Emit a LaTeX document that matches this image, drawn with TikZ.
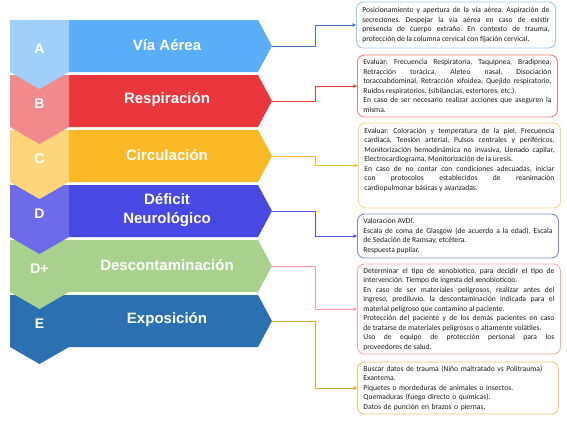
\documentclass[tikz,border=0pt]{standalone}
\usepackage{fontspec}
\setmainfont{Liberation Sans}
\newfontfamily\boxfam{Carlito}
\usetikzlibrary{arrows.meta}
\definecolor{tabA}{HTML}{A0CFFA}\definecolor{barA}{HTML}{5AADF7}\definecolor{lnA}{HTML}{4472C4}\definecolor{bxA}{HTML}{9ECAF2}
\definecolor{tabB}{HTML}{F28A8C}\definecolor{barB}{HTML}{EB363B}\definecolor{lnB}{HTML}{EE3B3B}\definecolor{bxB}{HTML}{EE8080}
\definecolor{tabC}{HTML}{FDD67B}\definecolor{barC}{HTML}{FBBA25}\definecolor{lnC}{HTML}{FBBA25}\definecolor{bxC}{HTML}{FCD580}
\definecolor{tabD}{HTML}{6D6BE9}\definecolor{barD}{HTML}{4848E2}\definecolor{lnD}{HTML}{5252E6}\definecolor{bxD}{HTML}{8484EC}
\definecolor{tabP}{HTML}{A9D18E}\definecolor{barP}{HTML}{A9D18E}\definecolor{lnP}{HTML}{FF9B9B}\definecolor{bxP}{HTML}{F8A8A8}
\definecolor{tabE}{HTML}{2B71B1}\definecolor{barE}{HTML}{2B71B1}\definecolor{lnE}{HTML}{E0A526}\definecolor{bxE}{HTML}{F2C46A}
\definecolor{txt}{HTML}{1A1A1A}
\frenchspacing
\newcommand\abcrow[6]{%
  \fill[#3] (69,#1) -- (258,#1) -- (272,#1+26) -- (258,#1+52) -- (69,#1+52) -- cycle;
  \fill[#2] (10,#1) -- (69,#1) -- (69,#1+52) -- (39.5,#1+69) -- (10,#1+52) -- cycle;
  \node[lettr] (#6L) at (39.5,#1+29) {#4};
  \node[ttl] (#6T) at (167,#1+25) {#5};
  \coordinate (#6tip) at (272,#1+26);
}
\begin{document}
\begin{tikzpicture}[x=1pt,y=-1pt,
  lettr/.style={text=white,font=\fontsize{14}{16}\selectfont\bfseries,inner sep=0pt},
  ttl/.style={text=white,font=\fontsize{15}{18.5}\selectfont\bfseries,align=center,inner sep=0pt},
  infobox/.style={draw=#1,line width=0.9pt,rounded corners=7pt,anchor=west,inner xsep=6pt,inner ysep=2pt,
     align=justify,text=txt,font=\boxfam\fontsize{7.6}{9.5}\selectfont\frenchspacing},
  conn/.style={draw=#1,line width=1pt,-{Triangle[length=3.5pt,width=3.5pt]}}]
\useasboundingbox (0,0) rectangle (567,426);
\abcrow{295}{tabE}{barE}{E}{Exposición}{E}
\abcrow{240}{tabP}{barP}{D+}{Descontaminación}{P}
\abcrow{185}{tabD}{barD}{D}{Déficit\\Neurológico}{D}
\abcrow{130}{tabC}{barC}{C}{Circulación}{C}
\abcrow{75}{tabB}{barB}{B}{Respiración}{B}
\abcrow{20}{tabA}{barA}{A}{Vía Aérea}{A}
% boxes
\node[infobox=bxA,text width=187pt,minimum height=46pt] (bA) at (356,25)
 {Posicionamiento y apertura de la vía aérea. Aspiración de\linebreak secreciones. Despejar la vía aérea en caso de existir\linebreak presencia de cuerpo extraño. En contexto de trauma,\linebreak protección de la columna cervical con fijación cervical.};
\node[infobox=bxB,text width=188pt,minimum height=62pt] (bB) at (357,86)
 {Evaluar: Frecuencia Respiratoria, Taquipnea, Bradipnea,\linebreak Retracción torácica, Aleteo nasal, Disociación\linebreak toracoabdominal, Retracción xifoidea, Quejido respiratorio,\linebreak Ruidos respiratorios. (sibilancias, estertores, etc.).\par En caso de ser necesario realizar acciones que aseguren la\linebreak misma.};
\node[infobox=bxC,text width=190pt,minimum height=85pt] (bC) at (358,165.5)
 {Evaluar: Coloración y temperatura de la piel, Frecuencia\linebreak cardiaca, Tensión arterial, Pulsos centrales y periféricos.\linebreak Monitorización hemodinámica no invasiva, Llenado capilar,\linebreak Electrocardiograma, Monitorización de la uresis.\par En caso de no contar con condiciones adecuadas, iniciar\linebreak con protocolos establecidos de reanimación\linebreak cardiopulmonar básicas y avanzadas.\par\vspace*{12pt}};
\node[infobox=bxD,text width=189pt,minimum height=44pt] (bD) at (357,236)
 {Valoración AVDI.\par Escala de coma de Glasgow (de acuerdo a la edad), Escala\linebreak de Sedación de Ramsay, etcétera.\par Respuesta pupilar.};
\node[infobox=bxP,text width=191pt,minimum height=90pt] (bP) at (357,309)
 {Determinar el tipo de xenobiotico, para decidir el tipo de\linebreak intervención. Tiempo de ingesta del xenobioticoo.\par En caso de ser materiales peligrosos, realizar antes del\linebreak ingreso, prediluvio, la descontaminación indicada para el\linebreak material peligroso que contamino al paciente.\par Protección del paciente y de los demás pacientes en caso\linebreak de tratarse de materiales peligrosos o altamente volátiles.\par Uso de equipo de protección personal para los\linebreak proveedores de salud.};
\node[infobox=bxE,text width=189pt,minimum height=52pt,align=left] (bE) at (357,388)
 {Buscar datos de trauma (Niño maltratado vs Politrauma)\\ Exantema.\\ Piquetes o mordeduras de animales o insectos.\\ Quemaduras (fuego directo o químicas).\\ Datos de punción en brazos o piernas.};
% connectors
\draw[conn=lnA] (Atip) -- ++(43,0) |- (bA.west);
\draw[conn=lnB] (Btip) -- ++(43,0) |- (bB.west);
\draw[conn=lnC] (Ctip) -- ++(43,0) |- (bC.west);
\draw[conn=lnD] (Dtip) -- ++(43,0) |- (bD.west);
\draw[conn=lnP] (Ptip) -- ++(43,0) |- (bP.west);
\draw[conn=lnE] (Etip) -- ++(43,0) |- (bE.west);
\end{tikzpicture}
\end{document}
